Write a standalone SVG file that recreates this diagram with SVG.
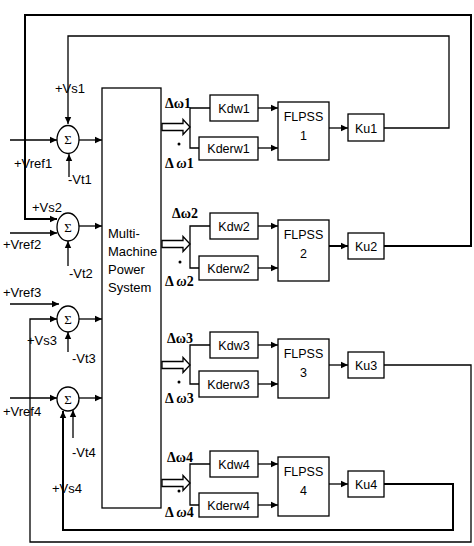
<svg xmlns="http://www.w3.org/2000/svg" width="474" height="546" viewBox="0 0 474 546">
<defs>
<marker id="ar" markerWidth="8" markerHeight="8" refX="7" refY="4" orient="auto" markerUnits="userSpaceOnUse">
<path d="M0,0.8 L7,4 L0,7.2 Z" fill="#000"/>
</marker>
<style>
.ln{fill:none;stroke:#000;stroke-width:1.3}
.th{fill:none;stroke:#000;stroke-width:2}
.bx{fill:#fff;stroke:#000;stroke-width:1.3}
.t{font-family:"Liberation Sans",Arial,sans-serif;font-size:13px;fill:#000}
.c{font-family:"Liberation Sans",Arial,sans-serif;font-size:12.5px;fill:#000;text-anchor:middle}
.w{font-family:"Liberation Serif","Times New Roman",serif;font-size:14px;font-weight:bold;fill:#000}
.s{font-family:"Liberation Serif","Times New Roman",serif;font-size:13px;fill:#000;text-anchor:middle}
</style>
</defs>
<rect width="474" height="546" fill="#fff"/>

<g id="connectors">
<!-- Ku1 feedback to sum1 -->
<polyline class="ln" points="384,128 449,128 449,36 68,36 68,124" marker-end="url(#ar)"/>
<!-- Ku2 feedback to sum2 -->
<polyline class="th" points="384,246 471,246 471,15 25,15 25,219 57,219" marker-end="url(#ar)"/>
<!-- Ku3 feedback to sum3 -->
<polyline class="ln" points="384,365 471,365 471,542 30,542 30,319 57,319" marker-end="url(#ar)"/>
<!-- Ku4 feedback to sum4 -->
<polyline class="th" points="384,484 453,484 453,530 63,530 63,411" marker-end="url(#ar)"/>
<!-- reference inputs -->
<line class="ln" x1="10" y1="140" x2="57" y2="140" marker-end="url(#ar)"/>
<line class="ln" x1="10" y1="233" x2="57" y2="233" marker-end="url(#ar)"/>
<line class="ln" x1="10" y1="304" x2="59" y2="304" marker-end="url(#ar)"/>
<line class="ln" x1="10" y1="398" x2="57" y2="398" marker-end="url(#ar)"/>
<!-- Vt inputs -->
<line class="ln" x1="69" y1="177" x2="69" y2="154" marker-end="url(#ar)"/>
<line class="ln" x1="68" y1="266" x2="68" y2="241" marker-end="url(#ar)"/>
<line class="ln" x1="68" y1="352" x2="68" y2="332" marker-end="url(#ar)"/>
<line class="ln" x1="73" y1="438" x2="73" y2="410" marker-end="url(#ar)"/>
<!-- sum outputs -->
<line class="ln" x1="79" y1="140" x2="102" y2="140" marker-end="url(#ar)"/>
<line class="ln" x1="79" y1="226" x2="102" y2="226" marker-end="url(#ar)"/>
<line class="ln" x1="79" y1="319" x2="102" y2="319" marker-end="url(#ar)"/>
<line class="ln" x1="79" y1="398" x2="102" y2="398" marker-end="url(#ar)"/>
<!-- hollow arrows -->
<path class="bx" d="M162,123.5 H183 V119.5 L190,127 L183,134.5 V130.5 H162 Z"/>
<path class="bx" d="M162,240.5 H183 V236.5 L190,244 L183,251.5 V247.5 H162 Z"/>
<path class="bx" d="M162,361.5 H183 V357.5 L190,365 L183,372.5 V368.5 H162 Z"/>
<path class="bx" d="M162,479.5 H183 V475.5 L190,483 L183,490.5 V486.5 H162 Z"/>
<!-- branches -->
<polyline class="ln" points="210,108 190,108 190,148 199,148"/>
<polyline class="ln" points="210,226 190,226 190,268 199,268"/>
<polyline class="ln" points="210,345 190,345 190,384 199,384"/>
<polyline class="ln" points="210,464 190,464 190,505 199,505"/>
<!-- K to FLPSS -->
<line class="ln" x1="258" y1="108" x2="278" y2="108" marker-end="url(#ar)"/>
<line class="ln" x1="258" y1="148" x2="278" y2="148" marker-end="url(#ar)"/>
<line class="ln" x1="258" y1="226" x2="278" y2="226" marker-end="url(#ar)"/>
<line class="ln" x1="258" y1="268" x2="278" y2="268" marker-end="url(#ar)"/>
<line class="ln" x1="258" y1="345" x2="278" y2="345" marker-end="url(#ar)"/>
<line class="ln" x1="258" y1="384" x2="278" y2="384" marker-end="url(#ar)"/>
<line class="ln" x1="258" y1="464" x2="278" y2="464" marker-end="url(#ar)"/>
<line class="ln" x1="258" y1="505" x2="278" y2="505" marker-end="url(#ar)"/>
<!-- FLPSS to Ku -->
<line class="ln" x1="329" y1="128" x2="348" y2="128" marker-end="url(#ar)"/>
<line class="th" x1="329" y1="246" x2="348" y2="246" marker-end="url(#ar)"/>
<line class="ln" x1="329" y1="365" x2="348" y2="365" marker-end="url(#ar)"/>
<line class="ln" x1="329" y1="484" x2="348" y2="484" marker-end="url(#ar)"/>
</g>

<g id="labels">
<text class="t" x="55" y="93">+Vs1</text>
<text class="t" x="14" y="168">+Vref1</text>
<text class="t" x="68" y="184">-Vt1</text>
<text class="t" x="32" y="212">+Vs2</text>
<text class="t" x="3" y="249">+Vref2</text>
<text class="t" x="69" y="278">-Vt2</text>
<text class="t" x="3" y="297">+Vref3</text>
<text class="t" x="27" y="345">+Vs3</text>
<text class="t" x="72" y="363">-Vt3</text>
<text class="t" x="3" y="416">+Vref4</text>
<text class="t" x="72" y="457">-Vt4</text>
<text class="t" x="52" y="493">+Vs4</text>
<text class="w" x="165" y="108">Δω1</text>
<text class="w" x="165" y="168">Δ <tspan font-style="italic">ω</tspan>1</text>
<circle cx="179" cy="144" r="1.5"/>
<text class="w" x="172" y="218">Δω2</text>
<text class="w" x="165" y="286">Δ <tspan font-style="italic">ω</tspan>2</text>
<circle cx="180" cy="262" r="1.5"/>
<text class="w" x="167" y="343">Δω3</text>
<text class="w" x="165" y="403">Δ <tspan font-style="italic">ω</tspan>3</text>
<circle cx="179" cy="382" r="1.5"/>
<text class="w" x="167" y="462">Δω4</text>
<text class="w" x="165" y="517">Δ <tspan font-style="italic">ω</tspan>4</text>
<circle cx="179" cy="491" r="1.5"/>
</g>

<g id="sum1"><ellipse class="bx" cx="68" cy="139.5" rx="11" ry="14"/><text class="s" x="68" y="144">Σ</text></g>
<g id="sum2"><ellipse class="bx" cx="68" cy="227" rx="11" ry="14"/><text class="s" x="68" y="231.5">Σ</text></g>
<g id="sum3"><ellipse class="bx" cx="68" cy="319" rx="11" ry="13"/><text class="s" x="68" y="323.5">Σ</text></g>
<g id="sum4"><ellipse class="bx" cx="68" cy="399" rx="11" ry="12"/><text class="s" x="68" y="403.5">Σ</text></g>

<g id="mmps">
<rect class="bx" x="102" y="88" width="59" height="420"/>
<text class="t" font-size="12.5" x="108" y="238">Multi-</text>
<text class="t" font-size="12.5" x="108" y="256">Machine</text>
<text class="t" font-size="12.5" x="108" y="274">Power</text>
<text class="t" font-size="12.5" x="108" y="292">System</text>
</g>

<g id="kdw1"><rect class="bx" x="210" y="95" width="48" height="26"/><text class="c" x="234" y="112.5">Kdw1</text></g>
<g id="kderw1"><rect class="bx" x="199" y="137" width="59" height="23"/><text class="c" x="228.5" y="153">Kderw1</text></g>
<g id="flpss1"><rect class="bx" x="278" y="102" width="51" height="58"/><text class="c" x="303.5" y="121">FLPSS</text><text class="c" x="303.5" y="140">1</text></g>
<g id="ku1"><rect class="bx" x="348" y="114" width="36" height="27"/><text class="c" x="366" y="132.5">Ku1</text></g>

<g id="kdw2"><rect class="bx" x="210" y="213" width="48" height="26"/><text class="c" x="234" y="230.5">Kdw2</text></g>
<g id="kderw2"><rect class="bx" x="199" y="256" width="59" height="24"/><text class="c" x="228.5" y="272.5">Kderw2</text></g>
<g id="flpss2"><rect class="bx" x="278" y="220" width="51" height="61"/><text class="c" x="303.5" y="239">FLPSS</text><text class="c" x="303.5" y="258">2</text></g>
<g id="ku2"><rect class="bx" x="348" y="233" width="36" height="26"/><text class="c" x="366" y="250.5">Ku2</text></g>

<g id="kdw3"><rect class="bx" x="210" y="332" width="48" height="26"/><text class="c" x="234" y="349.5">Kdw3</text></g>
<g id="kderw3"><rect class="bx" x="199" y="371" width="59" height="26"/><text class="c" x="228.5" y="388.5">Kderw3</text></g>
<g id="flpss3"><rect class="bx" x="278" y="339" width="51" height="59"/><text class="c" x="303.5" y="358">FLPSS</text><text class="c" x="303.5" y="377">3</text></g>
<g id="ku3"><rect class="bx" x="348" y="352" width="36" height="26"/><text class="c" x="366" y="369.5">Ku3</text></g>

<g id="kdw4"><rect class="bx" x="210" y="451" width="48" height="26"/><text class="c" x="234" y="468.5">Kdw4</text></g>
<g id="kderw4"><rect class="bx" x="199" y="493" width="59" height="24"/><text class="c" x="228.5" y="509.5">Kderw4</text></g>
<g id="flpss4"><rect class="bx" x="278" y="457" width="51" height="59"/><text class="c" x="303.5" y="476">FLPSS</text><text class="c" x="303.5" y="495">4</text></g>
<g id="ku4"><rect class="bx" x="348" y="471" width="36" height="26"/><text class="c" x="366" y="488.5">Ku4</text></g>
</svg>
